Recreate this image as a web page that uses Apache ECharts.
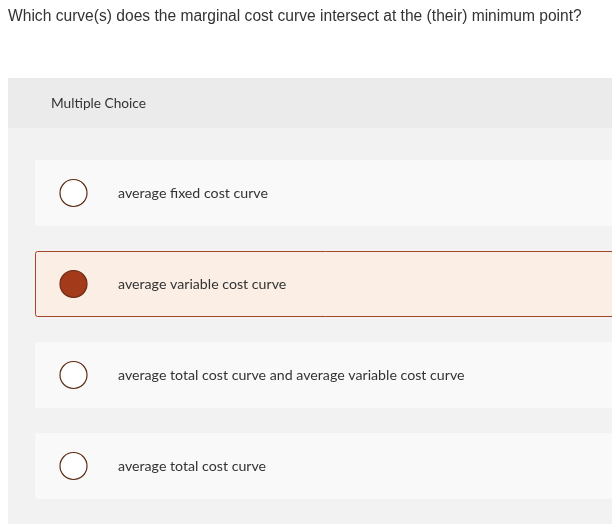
<!DOCTYPE html>
<html><head><meta charset="utf-8">
<script src="https://cdn.jsdelivr.net/npm/echarts@6/dist/echarts.min.js"></script>
<style>html,body{margin:0;padding:0;background:#fff}#c{width:612px;height:524px}</style>
</head><body><div id="c"></div>
<script>
const question = "Which curve(s) does the marginal cost curve intersect at the (their) minimum point?";
const header = "Multiple Choice";
const choices = [
  "average fixed cost curve",
  "average variable cost curve",
  "average total cost curve and average variable cost curve",
  "average total cost curve"
];
const selected = [false, true, false, false];

const chart = echarts.init(document.getElementById('c'), null, {renderer: 'canvas'});
const g = [];
g.push({type:'text', left:8, top:9, style:{text:question, font:'15.6px "Liberation Sans", Arial, sans-serif', fill:'#333'}});
g.push({type:'rect', shape:{x:8, y:78, width:620, height:460}, style:{fill:'#f2f2f2'}});
g.push({type:'rect', shape:{x:8, y:78, width:620, height:50}, style:{fill:'#ebebeb'}});
g.push({type:'text', left:51, top:97, style:{text:header, font:'13.7px Lato, "Open Sans", sans-serif', fill:'#333'}});
choices.forEach((t, i) => {
  const y0 = 160 + i * 91;
  const sel = selected[i];
  g.push({type:'rect', shape:{x: sel ? 35.5 : 35, y: sel ? y0 + 0.5 : y0, width:600, height: sel ? 65 : 66, r:2},
    style:{fill: sel ? '#fbeee4' : '#f9f9f9', stroke: sel ? '#a4452a' : null, lineWidth: sel ? 1 : 0}});
  g.push({type:'circle', shape:{cx:73.5, cy:y0 + 33, r:13.5},
    style:{fill: sel ? '#a33b1a' : '#ffffff', stroke: sel ? '#6b2a14' : '#5b2b16', lineWidth:1.2}});
  g.push({type:'text', left:118, top:y0 + 26, style:{text:t, font:'14.2px Lato, "Open Sans", sans-serif', fill:'#333'}});
});
chart.setOption({animation:false, graphic:{elements:g}});
</script></body></html>
